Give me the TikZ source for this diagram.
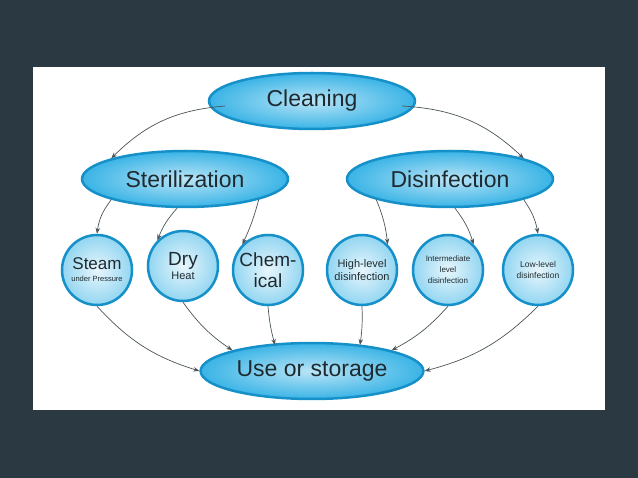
\documentclass[tikz,border=0pt]{standalone}
\usepackage{fontspec}
\setmainfont{Liberation Sans}
\usetikzlibrary{arrows.meta,shapes.geometric}
\definecolor{bg}{HTML}{2B3A42}
\definecolor{rim}{HTML}{1590C8}
\definecolor{fillo}{HTML}{3AB4E6}
\definecolor{txt}{HTML}{1E2A30}
\begin{document}
\begin{tikzpicture}[x=1pt,y=-1pt,
 big/.style={ellipse,minimum width=206pt,minimum height=56pt,draw=rim,line width=2.5pt,inner color=fillo!35,outer color=fillo,text=txt,font=\fontsize{23}{23}\selectfont},
 ball/.style={circle,minimum size=70pt,inner sep=0pt,draw=rim,line width=2.5pt,inner color=fillo!12,outer color=fillo!55,text=txt,align=center},
 con/.style={-{Stealth[length=6pt]},draw=txt!80,line width=0.7pt}]
\fill[bg] (0,0) rectangle (638,478);
\fill[white] (33,67) rectangle (605,410);
\node[big] (cl) at (312,101) {Cleaning};
\node[big] (st) at (185,179) {Sterilization};
\node[big] (di) at (450,179) {Disinfection};
\node[big] (us) at (312,371) {Use or storage};
\node[ball,font=\fontsize{17}{18}\selectfont] (s1) at (97,270) {Steam\\[-6pt]\fontsize{7.5}{8}\selectfont under Pressure};
\node[ball,font=\fontsize{19}{18}\selectfont] (s2) at (183,266) {Dry\\[-4pt]\fontsize{11}{12}\selectfont Heat};
\node[ball,font=\fontsize{19}{21}\selectfont] (s3) at (268,270) {Chem-\\ical};
\node[ball,font=\fontsize{11}{13}\selectfont] (d1) at (362,270) {High-level\\disinfection};
\node[ball,font=\fontsize{8}{11}\selectfont] (d2) at (448,270) {Intermediate\\level\\disinfection};
\node[ball,font=\fontsize{8.5}{11}\selectfont] (d3) at (538,270) {Low-level\\disinfection};
\coordinate (a) at (225,106);
\coordinate (b) at (402,106);
\draw[con] (a) to[bend right=20] (st.north west);
\draw[con] (b) to[bend left=20] (di.north east);
\draw[con] (st.south west) to[bend right=15] (s1.north);
\draw[con] (st.south) ++(-8,0) coordinate (c) (c) to[bend right=10] (s2.north west);
\draw[con] (st.south east) to[bend left=5] (s3.north west);
\draw[con] (di.south west) to[bend left=8] (d1.north east);
\draw[con] (di.south) ++(5,0) coordinate (d) (d) to[bend left=10] (d2.north east);
\draw[con] (di.south east) to[bend left=12] (d3.north);
\coordinate (u1) at (275,345);
\coordinate (u2) at (360,345);
\draw[con] (s1.south) to[bend right=15] (us.west);
\draw[con] (s2.south) to[bend right=10] (us.north west);
\draw[con] (s3.south) to[bend right=5] (u1);
\draw[con] (d1.south) to[bend left=5] (u2);
\draw[con] (d2.south) to[bend left=10] (us.north east);
\draw[con] (d3.south) to[bend left=15] (us.east);
\end{tikzpicture}
\end{document}
